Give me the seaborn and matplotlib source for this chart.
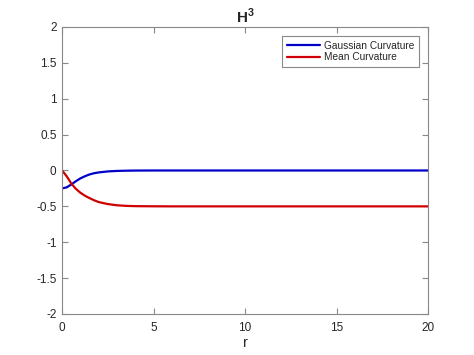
import numpy as np
import pandas as pd
import matplotlib
matplotlib.use("Agg")
import matplotlib.pyplot as plt
import seaborn as sns

# values
r = [0, 0.25, 0.5, 0.75, 1, 1.25, 1.5, 1.75, 2, 2.5, 3, 3.5, 4, 5, 6, 8, 10, 15, 20]
gauss = [-0.25, -0.235, -0.195, -0.15, -0.11, -0.08, -0.055, -0.038, -0.027,
         -0.013, -0.006, -0.003, -0.001, 0, 0, 0, 0, 0, 0]
mean = [0, -0.08, -0.18, -0.255, -0.31, -0.352, -0.385, -0.415, -0.44, -0.468,
        -0.485, -0.493, -0.497, -0.499, -0.5, -0.5, -0.5, -0.5, -0.5]
labels = ['Gaussian Curvature', 'Mean Curvature']
xticks = [0, 5, 10, 15, 20]
yticks = [-2, -1.5, -1, -0.5, 0, 0.5, 1, 1.5, 2]

sns.set_style("white")
plt.rcParams['font.family'] = ['Liberation Sans', 'DejaVu Sans']
plt.rcParams['mathtext.fontset'] = 'custom'
plt.rcParams['mathtext.rm'] = 'Liberation Sans'
plt.rcParams['mathtext.bf'] = 'Liberation Sans:bold'

df = pd.DataFrame({'r': r * 2,
                   'val': gauss + mean,
                   'curve': [labels[0]] * len(r) + [labels[1]] * len(r)})

fig = plt.figure(figsize=(4.74, 3.55), dpi=100)
ax = fig.add_axes([0.131, 0.1155, 0.772, 0.8085])
sns.lineplot(data=df, x='r', y='val', hue='curve', hue_order=labels,
             palette=['#0000c8', '#d00000'], linewidth=1.6, ax=ax)

ax.set_xlim(0, 20)
ax.set_ylim(-2, 2)
ax.set_xticks(xticks)
ax.set_xticklabels([str(t) for t in xticks])
ax.set_yticks(yticks)
ax.set_yticklabels(['%g' % t for t in yticks])
gray = '#262626'
for s in ax.spines.values():
    s.set_color('#888888')
    s.set_linewidth(0.8)
ax.tick_params(direction='in', length=4, width=0.8, color='#888888',
               labelcolor=gray, labelsize=8.5, top=True, right=True,
               bottom=True, left=True)
ax.tick_params(axis='x', pad=6)
ax.tick_params(axis='y', pad=4)
ax.set_xlabel('r', fontsize=10.5, color=gray, labelpad=1)
ax.set_ylabel('')
ax.set_title('H$^\\mathbf{3}$', fontsize=11, fontweight='bold', color=gray, pad=3)
leg = ax.legend(loc='upper right', fontsize=7.3, frameon=True, fancybox=False,
                edgecolor='#888888', framealpha=1, handlelength=3.3,
                handletextpad=0.35, borderaxespad=0.9, labelspacing=0.15,
                borderpad=0.45)
leg.get_frame().set_linewidth(0.8)
for t in leg.get_texts():
    t.set_color(gray)

fig.savefig('out.png', dpi=100)
